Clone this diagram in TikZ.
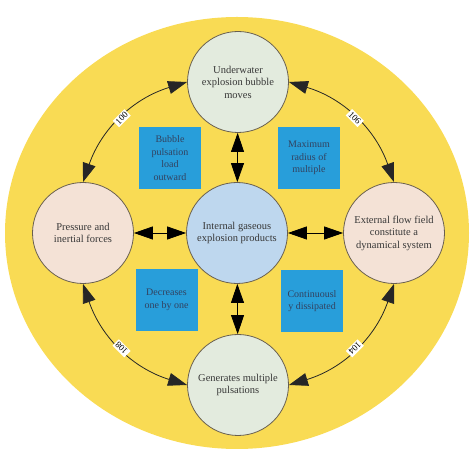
\documentclass[tikz,border=0pt]{standalone}
\usepackage{fontspec}
\setmainfont{Liberation Serif}
\usetikzlibrary{arrows.meta}
\definecolor{yel}{RGB}{249,219,84}
\definecolor{greenf}{RGB}{227,235,222}
\definecolor{peachf}{RGB}{244,226,214}
\definecolor{bluef}{RGB}{190,215,238}
\definecolor{boxblue}{RGB}{40,158,218}
\definecolor{boxtext}{RGB}{50,66,96}
\definecolor{circline}{RGB}{105,95,78}
\definecolor{txt}{RGB}{55,55,55}
\tikzset{
  circ/.style={circle, draw=circline, line width=0.8pt, minimum size=101pt, inner sep=0pt,
    align=center, text=txt, font=\fontsize{10.5}{12.5}\selectfont},
  bbox/.style={rectangle, fill=boxblue, minimum size=62pt, inner sep=0pt, align=center,
    text=boxtext, font=\fontsize{10}{12.5}\selectfont},
  tip/.tip={Triangle[length=19pt,width=13pt]},
  dbl/.style={draw=black, line width=0.8pt, tip-tip},
  arcline/.style={draw=black!85, line width=0.8pt, tip-tip},
  lab/.style={fill=white, inner sep=1.5pt, text=black, font=\fontsize{9}{10}\selectfont}
}
\begin{document}
\begin{tikzpicture}[x=1pt,y=1pt]
\useasboundingbox (0,0) rectangle (474,466);
\fill[yel] (237,233) ellipse [x radius=232, y radius=216];
\node[circ, fill=greenf] (top) at (238,384) {Underwater\\explosion bubble\\moves};
\node[circ, fill=peachf] (left) at (83,233) {Pressure and\\inertial forces};
\node[circ, fill=bluef] (mid) at (237,233) {Internal gaseous\\explosion products};
\node[circ, fill=peachf] (right) at (394,233) {External flow field\\constitute a\\dynamical system};
\node[circ, fill=greenf] (bot) at (238,81) {Generates multiple\\pulsations};
\node[bbox] (b1) at (170,308) {Bubble\\pulsation\\load\\outward};
\node[bbox] (b2) at (309,308) {Maximum\\radius of\\multiple};
\node[bbox] (b3) at (166.5,166) {Decreases\\one by one};
\node[bbox] (b4) at (312,165) {Continuousl\\y dissipated};
\draw[dbl] (top) -- (mid);
\draw[dbl] (mid) -- (bot);
\draw[dbl] (left) -- (mid);
\draw[dbl] (mid) -- (right);
\draw[arcline] (top.west) to[bend right=27] node[lab, rotate=45] {100} (left.north);
\draw[arcline] (top.east) to[bend left=27] node[lab, rotate=-45] {106} (right.north);
\draw[arcline] (bot.west) to[bend left=27] node[lab, rotate=135] {108} (left.south);
\draw[arcline] (right.south) to[bend left=27] node[lab, rotate=-135] {104} (bot.east);
\end{tikzpicture}
\end{document}
